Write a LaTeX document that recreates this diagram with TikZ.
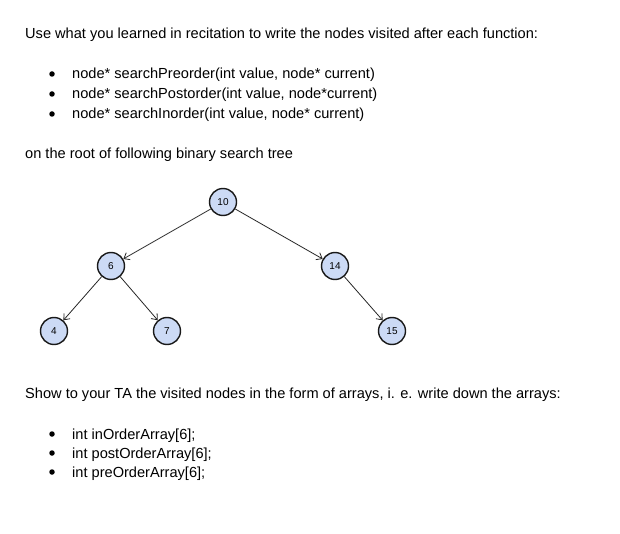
\documentclass[tikz,border=0pt]{standalone}
\usepackage{fontspec}
\setmainfont{Liberation Sans}
\usepackage{xcolor}
\usepackage{tikz}
\usetikzlibrary{positioning}
\usetikzlibrary{arrows.meta}
\definecolor{nodeblue}{RGB}{204,218,245}

\begin{document}
\begin{tikzpicture}[x=1pt,y=-1pt,
  txt/.style={anchor=base west, inner sep=0pt, font=\fontsize{14.6}{17}\selectfont},
  dot/.style={circle, fill=black, inner sep=0pt, minimum size=5.5pt},
  bst/.style={circle, draw=black!90, line width=1.4pt, fill=nodeblue, minimum size=27pt, inner sep=0pt, font=\fontsize{10}{12}\selectfont},
  edge/.style={-{Straight Barb[length=5pt,width=8pt]}, line width=0.8pt, draw=black!85}]
\useasboundingbox (0,0) rectangle (620,534);
% question text
\node[txt] (intro) at (25,39) {Use what you learned in recitation to write the nodes visited after each function:};
\node[dot] (b1) at (52,74) {};
\node[txt] (pre) at (72,79) {node* searchPreorder(int value, node* current)};
\node[dot] (b2) at (52,94) {};
\node[txt] (post) at (72,99) {node* searchPostorder(int value, node*current)};
\node[dot] (b3) at (52,114) {};
\node[txt] (in) at (72,119) {node* searchInorder(int value, node* current)};
\node[txt] (root) at (25,159) {on the root of following binary search tree};
% tree
\node[bst] (n10) at (223,202) {10};
\node[bst] (n6) at (111,266) {6};
\node[bst] (n14) at (335,266) {14};
\node[bst] (n4) at (54,331) {4};
\node[bst] (n7) at (167,331) {7};
\node[bst] (n15) at (392,331) {15};
\draw[edge] (n10) -- (n6);
\draw[edge] (n10) -- (n14);
\draw[edge] (n6) -- (n4);
\draw[edge] (n6) -- (n7);
\draw[edge] (n14) -- (n15);
% arrays
\node[txt] (show) at (25,398) {Show to your TA the visited nodes in the form of arrays, i. e. write down the arrays:};
\node[dot] (b4) at (52,434) {};
\node[txt] (inarr) at (72,439) {int inOrderArray[6];};
\node[dot] (b5) at (52,453) {};
\node[txt] (postarr) at (72,458) {int postOrderArray[6];};
\node[dot] (b6) at (52,472) {};
\node[txt] (prearr) at (72,477) {int preOrderArray[6];};
\end{tikzpicture}
\end{document}
